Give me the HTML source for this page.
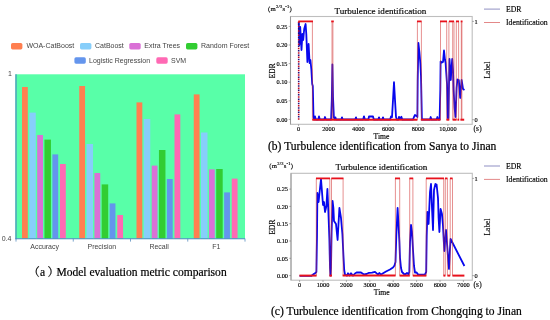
<!DOCTYPE html>
<html><head><meta charset="utf-8"><title>Figure</title>
<style>
html,body{margin:0;padding:0;background:#fff;}
body{width:550px;height:320px;overflow:hidden;position:relative;}
svg{position:absolute;left:0;top:0;}
.sans{font-family:"Liberation Sans",sans-serif;font-size:7px;fill:#444;}
.tk{font-family:"Liberation Serif",serif;font-size:6.3px;fill:#000;stroke:#000;stroke-width:0.15px;}
.ser{font-family:"Liberation Serif",serif;fill:#000;stroke:#000;stroke-width:0.15px;}
.cap{font-family:"Liberation Serif","Noto Serif CJK SC",serif;font-size:11.55px;fill:#000;stroke:#000;stroke-width:0.2px;}
</style></head><body>
<svg width="550" height="320" viewBox="0 0 550 320">
<rect width="550" height="320" fill="#fff"/>
<!-- (a) bar chart -->
<rect x="11" y="43" width="11.4" height="6.4" rx="1.6" fill="#ff7f50"/>
<text x="26.4" y="48.3" class="sans">WOA-CatBoost</text>
<rect x="80" y="43" width="11.4" height="6.4" rx="1.6" fill="#87cefa"/>
<text x="95" y="48.3" class="sans">CatBoost</text>
<rect x="129.3" y="43" width="11.4" height="6.4" rx="1.6" fill="#da70d6"/>
<text x="144.3" y="48.3" class="sans">Extra Trees</text>
<rect x="186" y="43" width="11.4" height="6.4" rx="1.6" fill="#32cd32"/>
<text x="201" y="48.3" class="sans">Random Forest</text>
<rect x="74.4" y="57.3" width="11.4" height="6.4" rx="1.6" fill="#6495ed"/>
<text x="89" y="62.6" class="sans">Logistic Regression</text>
<rect x="156.3" y="57.3" width="11.4" height="6.4" rx="1.6" fill="#ff69b4"/>
<text x="171" y="62.6" class="sans">SVM</text>
<rect x="15.4" y="74.3" width="229.6" height="164.4" fill="#58ffa8"/>
<rect x="22.00" y="87.0" width="5.8" height="151.6" fill="#ff7f50"/>
<rect x="29.25" y="112.6" width="6.5" height="126.0" fill="#87cefa"/>
<rect x="37.20" y="135.0" width="5.8" height="103.6" fill="#da70d6"/>
<rect x="44.45" y="139.6" width="6.5" height="99.0" fill="#32cd32"/>
<rect x="52.40" y="154.4" width="5.8" height="84.2" fill="#6495ed"/>
<rect x="60.00" y="164.0" width="5.8" height="74.6" fill="#ff69b4"/>
<rect x="79.25" y="86.0" width="5.8" height="152.6" fill="#ff7f50"/>
<rect x="86.50" y="144.0" width="6.5" height="94.6" fill="#87cefa"/>
<rect x="94.45" y="173.0" width="5.8" height="65.6" fill="#da70d6"/>
<rect x="101.70" y="184.4" width="6.5" height="54.2" fill="#32cd32"/>
<rect x="109.65" y="203.4" width="5.8" height="35.2" fill="#6495ed"/>
<rect x="117.25" y="215.0" width="5.8" height="23.6" fill="#ff69b4"/>
<rect x="136.50" y="102.4" width="5.8" height="136.2" fill="#ff7f50"/>
<rect x="143.75" y="119.0" width="6.5" height="119.6" fill="#87cefa"/>
<rect x="151.70" y="165.6" width="5.8" height="73.0" fill="#da70d6"/>
<rect x="158.95" y="150.0" width="6.5" height="88.6" fill="#32cd32"/>
<rect x="166.90" y="179.0" width="5.8" height="59.6" fill="#6495ed"/>
<rect x="174.50" y="114.4" width="5.8" height="124.2" fill="#ff69b4"/>
<rect x="193.75" y="94.4" width="5.8" height="144.2" fill="#ff7f50"/>
<rect x="201.00" y="132.5" width="6.5" height="106.1" fill="#87cefa"/>
<rect x="208.95" y="169.4" width="5.8" height="69.2" fill="#da70d6"/>
<rect x="216.20" y="169.0" width="6.5" height="69.6" fill="#32cd32"/>
<rect x="224.15" y="192.4" width="5.8" height="46.2" fill="#6495ed"/>
<rect x="231.75" y="178.6" width="5.8" height="60.0" fill="#ff69b4"/>
<line x1="16" y1="74.3" x2="16" y2="239.2" stroke="#4a8cc0" stroke-width="1.2"/>
<line x1="15.4" y1="238.8" x2="245" y2="238.8" stroke="#4a8cc0" stroke-width="1.1"/>
<line x1="16.00" y1="238.6" x2="16.00" y2="241.6" stroke="#5b8fc0" stroke-width="0.8"/>
<line x1="73.25" y1="238.6" x2="73.25" y2="241.6" stroke="#5b8fc0" stroke-width="0.8"/>
<line x1="130.50" y1="238.6" x2="130.50" y2="241.6" stroke="#5b8fc0" stroke-width="0.8"/>
<line x1="187.75" y1="238.6" x2="187.75" y2="241.6" stroke="#5b8fc0" stroke-width="0.8"/>
<line x1="245.00" y1="238.6" x2="245.00" y2="241.6" stroke="#5b8fc0" stroke-width="0.8"/>
<text x="11.8" y="76.4" class="sans" text-anchor="end">1</text>
<text x="11.4" y="241" class="sans" text-anchor="end">0.4</text>
<text x="44.62" y="248.7" class="sans" text-anchor="middle">Accuracy</text>
<text x="101.88" y="248.7" class="sans" text-anchor="middle">Precision</text>
<text x="159.12" y="248.7" class="sans" text-anchor="middle">Recall</text>
<text x="216.38" y="248.7" class="sans" text-anchor="middle">F1</text>
<text x="33" y="276.4" class="cap"><tspan x="28.2">（</tspan><tspan x="40">a</tspan><tspan x="47.6">）</tspan><tspan x="56.4">Model evaluation metric comparison</tspan></text>

<!-- (b) chart -->
<rect x="290.5" y="16.5" width="181.7" height="107.8" fill="none" stroke="#bebebe" stroke-width="1.1"/>
<line x1="290.5" y1="16.5" x2="290.5" y2="124.3" stroke="#9a9a9a" stroke-width="1"/>
<line x1="298.6" y1="124.3" x2="298.6" y2="126.1" stroke="#777" stroke-width="0.6"/>
<text x="298.6" y="131.1" class="tk" text-anchor="middle">0</text>
<line x1="328.5" y1="124.3" x2="328.5" y2="126.1" stroke="#777" stroke-width="0.6"/>
<text x="328.5" y="131.1" class="tk" text-anchor="middle">2000</text>
<line x1="358.3" y1="124.3" x2="358.3" y2="126.1" stroke="#777" stroke-width="0.6"/>
<text x="358.3" y="131.1" class="tk" text-anchor="middle">4000</text>
<line x1="388.2" y1="124.3" x2="388.2" y2="126.1" stroke="#777" stroke-width="0.6"/>
<text x="388.2" y="131.1" class="tk" text-anchor="middle">6000</text>
<line x1="418.0" y1="124.3" x2="418.0" y2="126.1" stroke="#777" stroke-width="0.6"/>
<text x="418.0" y="131.1" class="tk" text-anchor="middle">8000</text>
<line x1="447.9" y1="124.3" x2="447.9" y2="126.1" stroke="#777" stroke-width="0.6"/>
<text x="447.9" y="131.1" class="tk" text-anchor="middle">10,000</text>
<line x1="288.7" y1="119.4" x2="290.5" y2="119.4" stroke="#777" stroke-width="0.6"/>
<text x="287.5" y="121.6" class="tk" text-anchor="end">0.00</text>
<line x1="288.7" y1="100.8" x2="290.5" y2="100.8" stroke="#777" stroke-width="0.6"/>
<text x="287.5" y="103.0" class="tk" text-anchor="end">0.05</text>
<line x1="288.7" y1="82.2" x2="290.5" y2="82.2" stroke="#777" stroke-width="0.6"/>
<text x="287.5" y="84.4" class="tk" text-anchor="end">0.10</text>
<line x1="288.7" y1="63.6" x2="290.5" y2="63.6" stroke="#777" stroke-width="0.6"/>
<text x="287.5" y="65.8" class="tk" text-anchor="end">0.15</text>
<line x1="288.7" y1="45.0" x2="290.5" y2="45.0" stroke="#777" stroke-width="0.6"/>
<text x="287.5" y="47.2" class="tk" text-anchor="end">0.20</text>
<line x1="288.7" y1="26.4" x2="290.5" y2="26.4" stroke="#777" stroke-width="0.6"/>
<text x="287.5" y="28.6" class="tk" text-anchor="end">0.25</text>
<line x1="472.2" y1="21.4" x2="474.0" y2="21.4" stroke="#777" stroke-width="0.6"/>
<text x="474.4" y="23.6" class="tk">1</text>
<line x1="472.2" y1="119.7" x2="474.0" y2="119.7" stroke="#777" stroke-width="0.6"/>
<text x="474.4" y="121.9" class="tk">0</text>
<text x="268" y="10.9" class="ser" font-size="6.7" letter-spacing="0.25">(m<tspan font-size="4.5" dy="-2.6">2/3</tspan><tspan dy="2.6">s</tspan><tspan font-size="4.5" dy="-2.6">-1</tspan><tspan dy="2.6">)</tspan></text>
<text x="380.4" y="14" class="ser" font-size="9.12" text-anchor="middle">Turbulence identification</text>
<text transform="translate(275,70.8) rotate(-90)" class="ser" font-size="7.4" text-anchor="middle">EDR</text>
<text transform="translate(490,70) rotate(-90)" class="ser" font-size="7.4" text-anchor="middle">Label</text>
<text x="381.5" y="139.3" class="ser" font-size="7.6" text-anchor="middle">Time</text>
<text x="473.4" y="130.9" class="ser" font-size="7.3" letter-spacing="0.3">(s)</text>
<line x1="484" y1="9.1" x2="500" y2="9.1" stroke="#9a9ac8" stroke-width="1.1"/>
<line x1="484" y1="22.5" x2="500" y2="22.5" stroke="#dc6a6a" stroke-width="0.8"/>
<text x="506" y="11.8" class="ser" font-size="7.75">EDR</text>
<text x="506" y="25" class="ser" font-size="7.75">Identification</text>
<polyline points="298.8,22.0 299.3,45.0 300.2,27.0 301.5,50.0 302.4,34.0 303.2,40.0 304.2,29.0 305.6,24.0 306.3,34.0 307.4,62.0 308.6,44.0 309.6,63.0 310.4,60.0 311.4,70.0 312.2,84.0 312.8,86.0 313.5,117.0 314.2,119.5 315.0,116.4 315.8,119.5 318.3,119.5 319.0,116.5 319.8,119.5 324.3,119.5 325.0,117.0 325.8,119.5 331.1,119.5 331.8,100.0 332.4,64.5 333.0,97.0 333.9,117.5 334.8,119.5 335.4,117.3 336.0,119.5 341.4,119.5 342.0,117.3 342.6,119.5 355.3,119.5 356.0,117.3 356.6,119.5 363.2,119.5 364.0,116.3 364.8,119.5 368.4,119.5 369.0,116.5 373.0,116.5 373.8,119.5 378.3,119.5 379.0,117.3 379.7,119.5 382.3,119.5 383.0,117.3 383.7,119.5 390.2,119.5 391.0,116.5 392.0,117.0 393.0,100.0 394.0,82.2 395.0,100.0 396.0,117.0 396.8,119.5 398.4,119.5 399.0,116.8 400.0,118.3 401.4,116.8 402.2,119.5 413.0,119.5 414.0,117.0 415.0,115.0 416.5,116.0 417.4,117.0 417.7,80.0 418.4,43.0 419.4,52.0 420.4,64.0 421.0,76.0 421.5,100.0 421.9,119.5 430.0,119.5 430.7,117.0 431.4,119.5 436.6,119.5 437.4,117.0 438.2,119.5 439.6,119.5 440.3,90.0 440.6,61.5 442.0,62.5 443.0,62.0 444.0,50.5 445.0,60.0 445.6,63.0 446.2,72.0 447.0,84.0 447.4,100.0 447.8,118.0 448.4,118.0 448.9,90.0 449.5,59.0 450.3,72.0 450.8,80.0 451.4,70.0 452.2,59.0 453.0,70.0 453.6,90.0 454.6,108.0 455.5,117.0 456.0,105.0 456.6,88.0 457.4,79.5 458.8,80.0 459.6,90.0 460.2,98.0 460.8,90.0 461.6,80.0 462.4,85.0 463.0,89.0 464.5,90.0" fill="none" stroke="#0808ee" stroke-width="1.8" stroke-linejoin="round"/>
<line x1="312.4" y1="21.4" x2="312.4" y2="119.7" stroke="#d03030" stroke-opacity="0.6" stroke-width="0.9"/>
<line x1="332.0" y1="21.4" x2="332.0" y2="119.7" stroke="#d03030" stroke-opacity="0.6" stroke-width="0.9"/>
<line x1="332.9" y1="21.4" x2="332.9" y2="119.7" stroke="#d03030" stroke-opacity="0.6" stroke-width="0.9"/>
<line x1="417.4" y1="21.4" x2="417.4" y2="119.7" stroke="#d03030" stroke-opacity="0.6" stroke-width="0.9"/>
<line x1="421.4" y1="21.4" x2="421.4" y2="119.7" stroke="#d03030" stroke-opacity="0.6" stroke-width="0.9"/>
<line x1="440.5" y1="21.4" x2="440.5" y2="119.7" stroke="#d03030" stroke-opacity="0.6" stroke-width="0.9"/>
<line x1="446.7" y1="21.4" x2="446.7" y2="119.7" stroke="#d03030" stroke-opacity="0.6" stroke-width="0.9"/>
<line x1="448.9" y1="21.4" x2="448.9" y2="119.7" stroke="#d03030" stroke-opacity="0.6" stroke-width="0.9"/>
<line x1="452.7" y1="21.4" x2="452.7" y2="119.7" stroke="#d03030" stroke-opacity="0.6" stroke-width="0.9"/>
<line x1="454" y1="21.4" x2="454" y2="119.7" stroke="#d03030" stroke-opacity="0.6" stroke-width="0.9"/>
<line x1="456.3" y1="21.4" x2="456.3" y2="119.7" stroke="#d03030" stroke-opacity="0.6" stroke-width="0.9"/>
<line x1="458.6" y1="21.4" x2="458.6" y2="119.7" stroke="#d03030" stroke-opacity="0.6" stroke-width="0.9"/>
<line x1="461.3" y1="21.4" x2="461.3" y2="119.7" stroke="#d03030" stroke-opacity="0.6" stroke-width="0.9"/>
<line x1="461.9" y1="21.4" x2="461.9" y2="119.7" stroke="#d03030" stroke-opacity="0.6" stroke-width="0.9"/>
<line x1="298.3" y1="21.4" x2="313" y2="21.4" stroke="#e8111c" stroke-width="1.8"/>
<line x1="331.2" y1="21.4" x2="333.8" y2="21.4" stroke="#e8111c" stroke-width="1.8"/>
<line x1="417" y1="21.4" x2="421.6" y2="21.4" stroke="#e8111c" stroke-width="1.8"/>
<line x1="440" y1="21.4" x2="447" y2="21.4" stroke="#e8111c" stroke-width="1.8"/>
<line x1="449" y1="21.4" x2="454" y2="21.4" stroke="#e8111c" stroke-width="1.8"/>
<line x1="456" y1="21.4" x2="459" y2="21.4" stroke="#e8111c" stroke-width="1.8"/>
<line x1="460.7" y1="21.4" x2="462.5" y2="21.4" stroke="#e8111c" stroke-width="1.8"/>
<line x1="312.3" y1="119.7" x2="417.4" y2="119.7" stroke="#e8111c" stroke-width="2.0"/>
<line x1="420.8" y1="119.7" x2="440.5" y2="119.7" stroke="#e8111c" stroke-width="2.0"/>
<line x1="446.4" y1="119.7" x2="449.3" y2="119.7" stroke="#e8111c" stroke-width="2.0"/>
<line x1="452.6" y1="119.7" x2="456.6" y2="119.7" stroke="#e8111c" stroke-width="2.0"/>
<line x1="457.4" y1="119.7" x2="459.2" y2="119.7" stroke="#e8111c" stroke-width="2.0"/>
<line x1="460.4" y1="119.7" x2="464.2" y2="119.7" stroke="#e8111c" stroke-width="2.0"/>
<line x1="298.7" y1="21.4" x2="298.7" y2="119.7" stroke="#c80c20" stroke-width="1.6" stroke-dasharray="1.5 2.9"/><line x1="298.7" y1="23.599999999999998" x2="298.7" y2="119.7" stroke="#24107c" stroke-width="1.6" stroke-dasharray="1.5 2.9"/>
<text x="268" y="149.8" class="cap">(b) Turbulence identification from Sanya to Jinan</text>

<!-- (c) chart -->
<rect x="291" y="173.3" width="181.3" height="106.89999999999998" fill="none" stroke="#bebebe" stroke-width="1.1"/>
<line x1="291" y1="173.3" x2="291" y2="280.2" stroke="#9a9a9a" stroke-width="1"/>
<line x1="299.6" y1="280.2" x2="299.6" y2="282.0" stroke="#777" stroke-width="0.6"/>
<text x="299.6" y="287.0" class="tk" text-anchor="middle">0</text>
<line x1="323.0" y1="280.2" x2="323.0" y2="282.0" stroke="#777" stroke-width="0.6"/>
<text x="323.0" y="287.0" class="tk" text-anchor="middle">1000</text>
<line x1="346.4" y1="280.2" x2="346.4" y2="282.0" stroke="#777" stroke-width="0.6"/>
<text x="346.4" y="287.0" class="tk" text-anchor="middle">2000</text>
<line x1="369.8" y1="280.2" x2="369.8" y2="282.0" stroke="#777" stroke-width="0.6"/>
<text x="369.8" y="287.0" class="tk" text-anchor="middle">3000</text>
<line x1="393.2" y1="280.2" x2="393.2" y2="282.0" stroke="#777" stroke-width="0.6"/>
<text x="393.2" y="287.0" class="tk" text-anchor="middle">4000</text>
<line x1="416.6" y1="280.2" x2="416.6" y2="282.0" stroke="#777" stroke-width="0.6"/>
<text x="416.6" y="287.0" class="tk" text-anchor="middle">5000</text>
<line x1="440.0" y1="280.2" x2="440.0" y2="282.0" stroke="#777" stroke-width="0.6"/>
<text x="440.0" y="287.0" class="tk" text-anchor="middle">6000</text>
<line x1="463.4" y1="280.2" x2="463.4" y2="282.0" stroke="#777" stroke-width="0.6"/>
<text x="463.4" y="287.0" class="tk" text-anchor="middle">7000</text>
<line x1="289.2" y1="275.6" x2="291" y2="275.6" stroke="#777" stroke-width="0.6"/>
<text x="288" y="277.8" class="tk" text-anchor="end">0.00</text>
<line x1="289.2" y1="258.3" x2="291" y2="258.3" stroke="#777" stroke-width="0.6"/>
<text x="288" y="260.5" class="tk" text-anchor="end">0.05</text>
<line x1="289.2" y1="241.0" x2="291" y2="241.0" stroke="#777" stroke-width="0.6"/>
<text x="288" y="243.2" class="tk" text-anchor="end">0.10</text>
<line x1="289.2" y1="223.7" x2="291" y2="223.7" stroke="#777" stroke-width="0.6"/>
<text x="288" y="225.9" class="tk" text-anchor="end">0.15</text>
<line x1="289.2" y1="206.4" x2="291" y2="206.4" stroke="#777" stroke-width="0.6"/>
<text x="288" y="208.6" class="tk" text-anchor="end">0.20</text>
<line x1="289.2" y1="189.1" x2="291" y2="189.1" stroke="#777" stroke-width="0.6"/>
<text x="288" y="191.3" class="tk" text-anchor="end">0.25</text>
<line x1="472.3" y1="178.4" x2="474.1" y2="178.4" stroke="#777" stroke-width="0.6"/>
<text x="474.5" y="180.6" class="tk">1</text>
<line x1="472.3" y1="275.6" x2="474.1" y2="275.6" stroke="#777" stroke-width="0.6"/>
<text x="474.5" y="277.8" class="tk">0</text>
<text x="269.3" y="167.8" class="ser" font-size="6.7" letter-spacing="0.25">(m<tspan font-size="4.5" dy="-2.6">2/3</tspan><tspan dy="2.6">s</tspan><tspan font-size="4.5" dy="-2.6">-1</tspan><tspan dy="2.6">)</tspan></text>
<text x="381.4" y="170.4" class="ser" font-size="9.12" text-anchor="middle">Turbulence identification</text>
<text transform="translate(275.1,227) rotate(-90)" class="ser" font-size="7.4" text-anchor="middle">EDR</text>
<text transform="translate(490,227) rotate(-90)" class="ser" font-size="7.4" text-anchor="middle">Label</text>
<text x="381.7" y="295.4" class="ser" font-size="7.6" text-anchor="middle">Time</text>
<text x="473.4" y="287" class="ser" font-size="7.3" letter-spacing="0.3">(s)</text>
<line x1="484" y1="166" x2="500" y2="166" stroke="#9a9ac8" stroke-width="1.1"/>
<line x1="484" y1="179.4" x2="500" y2="179.4" stroke="#dc6a6a" stroke-width="0.8"/>
<text x="506" y="168.7" class="ser" font-size="7.75">EDR</text>
<text x="506" y="181.9" class="ser" font-size="7.75">Identification</text>
<polyline points="299.6,275.8 311.5,275.8 313.0,274.6 315.0,273.2 316.4,272.0 317.0,236.0 317.4,193.0 318.6,202.0 319.4,194.0 321.0,179.0 322.0,192.0 323.0,205.0 324.0,202.0 325.0,212.0 326.4,206.0 327.4,189.0 328.4,212.0 329.4,240.0 330.0,268.0 330.5,275.6 331.0,268.0 331.6,232.0 332.6,201.0 333.4,208.0 334.0,221.0 336.0,224.0 337.6,240.0 339.4,208.0 341.0,218.0 342.4,234.0 343.4,255.0 344.2,270.0 345.0,274.5 347.0,275.6 348.0,273.3 349.5,275.6 351.0,273.3 353.0,275.6 355.0,273.5 357.0,272.3 361.0,272.5 364.0,274.5 366.5,274.0 369.0,272.8 372.0,272.6 375.0,271.8 378.0,274.6 379.3,273.0 381.0,274.6 383.5,273.0 386.0,271.5 390.0,269.5 393.0,267.5 394.5,265.5 395.5,262.0 396.3,236.0 397.6,208.0 398.6,226.0 399.4,242.0 400.0,258.0 401.0,268.0 402.0,272.0 404.0,274.0 405.5,274.3 407.0,273.0 408.5,274.3 409.3,272.0 410.0,242.0 411.0,225.0 412.0,232.0 413.0,250.0 414.0,266.0 415.0,272.5 416.4,272.3 418.0,274.4 421.0,274.6 425.0,274.3 426.2,272.0 426.7,236.0 427.4,212.0 428.6,224.0 430.0,192.0 431.0,184.0 432.0,208.0 433.0,230.0 434.0,190.0 435.4,184.0 436.6,184.5 438.0,198.0 438.6,218.0 439.4,232.0 440.6,209.0 442.0,214.0 443.0,226.0 443.7,240.0 444.4,251.0 445.2,240.0 446.0,230.0 447.4,248.0 448.3,262.0 449.0,269.0 449.8,252.0 450.6,239.0 464.4,266.0" fill="none" stroke="#0808ee" stroke-width="1.8" stroke-linejoin="round"/>
<line x1="316.3" y1="178.4" x2="316.3" y2="275.6" stroke="#d03030" stroke-opacity="0.6" stroke-width="0.9"/>
<line x1="329.8" y1="178.4" x2="329.8" y2="275.6" stroke="#d03030" stroke-opacity="0.6" stroke-width="0.9"/>
<line x1="331.5" y1="178.4" x2="331.5" y2="275.6" stroke="#d03030" stroke-opacity="0.6" stroke-width="0.9"/>
<line x1="343.1" y1="178.4" x2="343.1" y2="275.6" stroke="#d03030" stroke-opacity="0.6" stroke-width="0.9"/>
<line x1="395.4" y1="178.4" x2="395.4" y2="275.6" stroke="#d03030" stroke-opacity="0.6" stroke-width="0.9"/>
<line x1="399.7" y1="178.4" x2="399.7" y2="275.6" stroke="#d03030" stroke-opacity="0.6" stroke-width="0.9"/>
<line x1="409.7" y1="178.4" x2="409.7" y2="275.6" stroke="#d03030" stroke-opacity="0.6" stroke-width="0.9"/>
<line x1="412.9" y1="178.4" x2="412.9" y2="275.6" stroke="#d03030" stroke-opacity="0.6" stroke-width="0.9"/>
<line x1="426.2" y1="178.4" x2="426.2" y2="275.6" stroke="#d03030" stroke-opacity="0.6" stroke-width="0.9"/>
<line x1="443.7" y1="178.4" x2="443.7" y2="275.6" stroke="#d03030" stroke-opacity="0.6" stroke-width="0.9"/>
<line x1="445.3" y1="178.4" x2="445.3" y2="275.6" stroke="#d03030" stroke-opacity="0.6" stroke-width="0.9"/>
<line x1="447.4" y1="178.4" x2="447.4" y2="275.6" stroke="#d03030" stroke-opacity="0.6" stroke-width="0.9"/>
<line x1="450.2" y1="178.4" x2="450.2" y2="275.6" stroke="#d03030" stroke-opacity="0.6" stroke-width="0.9"/>
<line x1="452.5" y1="178.4" x2="452.5" y2="275.6" stroke="#d03030" stroke-opacity="0.6" stroke-width="0.9"/>
<line x1="316" y1="178.4" x2="330" y2="178.4" stroke="#e8111c" stroke-width="1.8"/>
<line x1="331.3" y1="178.4" x2="343.5" y2="178.4" stroke="#e8111c" stroke-width="1.8"/>
<line x1="395" y1="178.4" x2="400" y2="178.4" stroke="#e8111c" stroke-width="1.8"/>
<line x1="409.4" y1="178.4" x2="413.2" y2="178.4" stroke="#e8111c" stroke-width="1.8"/>
<line x1="426" y1="178.4" x2="444" y2="178.4" stroke="#e8111c" stroke-width="1.8"/>
<line x1="445" y1="178.4" x2="447.5" y2="178.4" stroke="#e8111c" stroke-width="1.8"/>
<line x1="450" y1="178.4" x2="452.6" y2="178.4" stroke="#e8111c" stroke-width="1.8"/>
<line x1="299.4" y1="275.6" x2="316.6" y2="275.6" stroke="#e8111c" stroke-width="2.0"/>
<line x1="329.4" y1="275.6" x2="332" y2="275.6" stroke="#e8111c" stroke-width="2.0"/>
<line x1="342.6" y1="275.6" x2="395.6" y2="275.6" stroke="#e8111c" stroke-width="2.0"/>
<line x1="399.6" y1="275.6" x2="409.8" y2="275.6" stroke="#e8111c" stroke-width="2.0"/>
<line x1="412.8" y1="275.6" x2="426.4" y2="275.6" stroke="#e8111c" stroke-width="2.0"/>
<line x1="443.4" y1="275.6" x2="445.4" y2="275.6" stroke="#e8111c" stroke-width="2.0"/>
<line x1="447.4" y1="275.6" x2="450.2" y2="275.6" stroke="#e8111c" stroke-width="2.0"/>
<line x1="452.4" y1="275.6" x2="464.4" y2="275.6" stroke="#e8111c" stroke-width="2.0"/>
<text x="271" y="314.6" class="cap">(c) Turbulence identification from Chongqing to Jinan</text>
</svg>
</body></html>
